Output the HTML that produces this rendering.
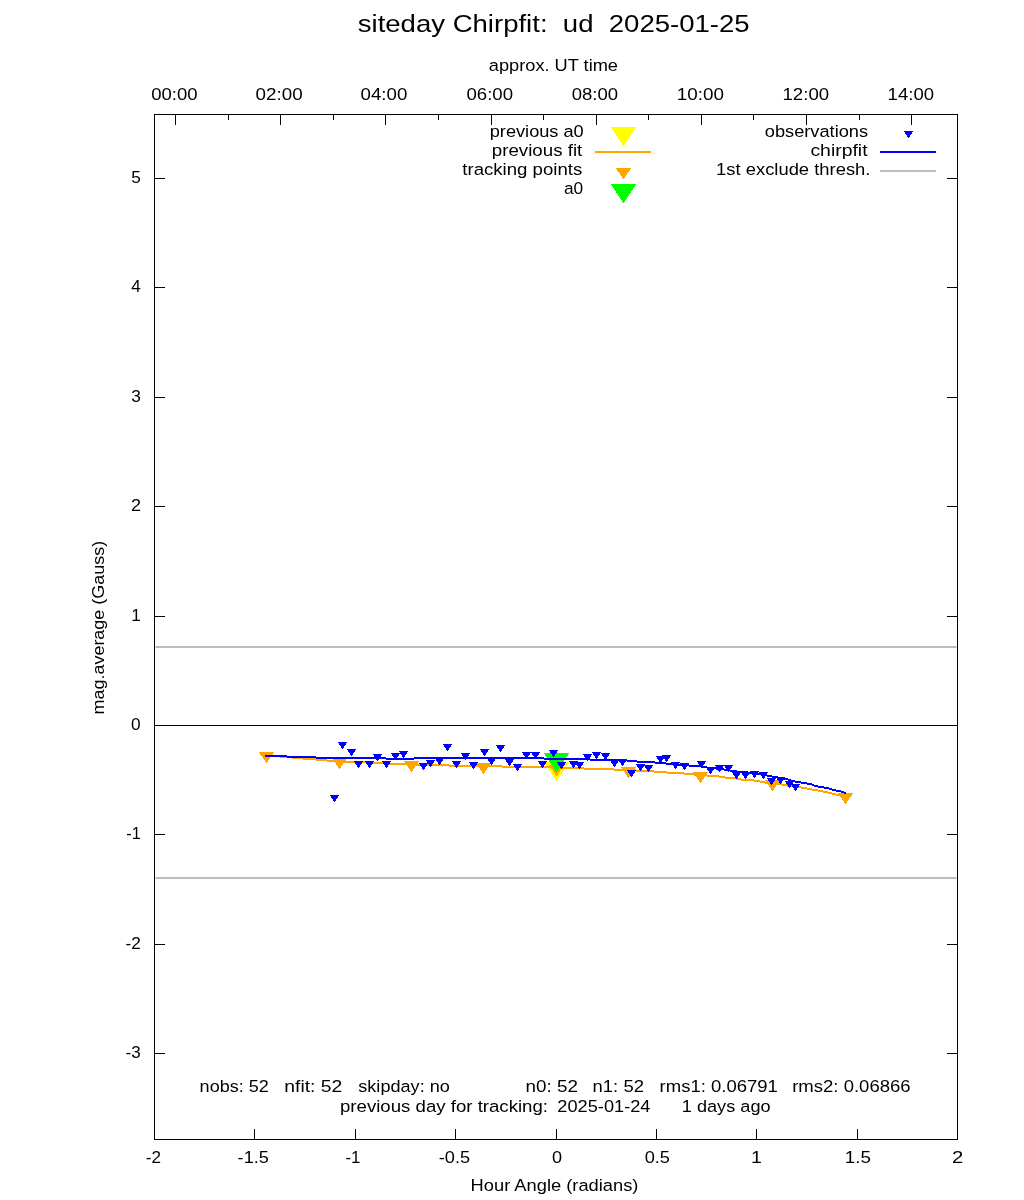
<!DOCTYPE html>
<html><head><meta charset="utf-8"><style>
html,body{margin:0;padding:0;background:#fff;}
svg{display:block;will-change:transform;}
text{font-family:"Liberation Sans",sans-serif;fill:#000;white-space:pre;}
</style></head><body>
<svg width="1024" height="1200" viewBox="0 0 1024 1200" xml:space="preserve">
<rect x="0" y="0" width="1024" height="1200" fill="#fff"/>
<text x="357.77" y="31.80" font-size="24.4" textLength="391.85" lengthAdjust="spacingAndGlyphs">siteday Chirpfit:  ud  2025-01-25</text>
<text x="488.87" y="71.00" font-size="16.8" textLength="129.15" lengthAdjust="spacingAndGlyphs">approx. UT time</text>
<text x="151.16" y="99.90" font-size="16.8" textLength="46.44" lengthAdjust="spacingAndGlyphs">00:00</text>
<text x="255.50" y="99.90" font-size="16.8" textLength="47.11" lengthAdjust="spacingAndGlyphs">02:00</text>
<text x="360.50" y="99.90" font-size="16.8" textLength="46.80" lengthAdjust="spacingAndGlyphs">04:00</text>
<text x="466.46" y="99.90" font-size="16.8" textLength="46.54" lengthAdjust="spacingAndGlyphs">06:00</text>
<text x="571.76" y="99.90" font-size="16.8" textLength="46.33" lengthAdjust="spacingAndGlyphs">08:00</text>
<text x="676.88" y="99.90" font-size="16.8" textLength="47.22" lengthAdjust="spacingAndGlyphs">10:00</text>
<text x="782.50" y="99.90" font-size="16.8" textLength="46.59" lengthAdjust="spacingAndGlyphs">12:00</text>
<text x="887.61" y="99.90" font-size="16.8" textLength="46.39" lengthAdjust="spacingAndGlyphs">14:00</text>
<text x="489.72" y="137.00" font-size="16.8" textLength="94.02" lengthAdjust="spacingAndGlyphs">previous a0</text>
<text x="491.78" y="156.00" font-size="16.8" textLength="90.52" lengthAdjust="spacingAndGlyphs">previous fit</text>
<text x="462.32" y="175.00" font-size="16.8" textLength="119.89" lengthAdjust="spacingAndGlyphs">tracking points</text>
<text x="564.01" y="194.00" font-size="16.8" textLength="19.24" lengthAdjust="spacingAndGlyphs">a0</text>
<text x="764.77" y="137.00" font-size="16.8" textLength="103.37" lengthAdjust="spacingAndGlyphs">observations</text>
<text x="810.42" y="156.00" font-size="16.8" textLength="57.18" lengthAdjust="spacingAndGlyphs">chirpfit</text>
<text x="716.12" y="175.00" font-size="16.8" textLength="154.30" lengthAdjust="spacingAndGlyphs">1st exclude thresh.</text>
<text x="125.63" y="1057.90" font-size="16.8" textLength="15.13" lengthAdjust="spacingAndGlyphs">-3</text>
<text x="125.62" y="948.90" font-size="16.8" textLength="15.32" lengthAdjust="spacingAndGlyphs">-2</text>
<text x="126.37" y="838.90" font-size="16.8" textLength="14.45" lengthAdjust="spacingAndGlyphs">-1</text>
<text x="131.11" y="729.90" font-size="16.8" textLength="9.62" lengthAdjust="spacingAndGlyphs">0</text>
<text x="131.31" y="620.90" font-size="16.8" textLength="9.59" lengthAdjust="spacingAndGlyphs">1</text>
<text x="131.00" y="510.90" font-size="16.8" textLength="10.02" lengthAdjust="spacingAndGlyphs">2</text>
<text x="131.21" y="401.90" font-size="16.8" textLength="9.60" lengthAdjust="spacingAndGlyphs">3</text>
<text x="131.16" y="291.90" font-size="16.8" textLength="9.47" lengthAdjust="spacingAndGlyphs">4</text>
<text x="131.21" y="182.90" font-size="16.8" textLength="9.60" lengthAdjust="spacingAndGlyphs">5</text>
<text x="145.73" y="1163.10" font-size="16.8" textLength="15.21" lengthAdjust="spacingAndGlyphs">-2</text>
<text x="237.58" y="1163.10" font-size="16.8" textLength="31.30" lengthAdjust="spacingAndGlyphs">-1.5</text>
<text x="345.49" y="1163.10" font-size="16.8" textLength="15.06" lengthAdjust="spacingAndGlyphs">-1</text>
<text x="438.78" y="1163.10" font-size="16.8" textLength="31.30" lengthAdjust="spacingAndGlyphs">-0.5</text>
<text x="551.98" y="1163.10" font-size="16.8" textLength="10.08" lengthAdjust="spacingAndGlyphs">0</text>
<text x="644.67" y="1163.10" font-size="16.8" textLength="25.36" lengthAdjust="spacingAndGlyphs">0.5</text>
<text x="750.93" y="1163.10" font-size="16.8" textLength="10.87" lengthAdjust="spacingAndGlyphs">1</text>
<text x="844.89" y="1163.10" font-size="16.8" textLength="26.17" lengthAdjust="spacingAndGlyphs">1.5</text>
<text x="951.99" y="1163.10" font-size="16.8" textLength="11.25" lengthAdjust="spacingAndGlyphs">2</text>
<text x="470.64" y="1191.00" font-size="16.8" textLength="167.79" lengthAdjust="spacingAndGlyphs">Hour Angle (radians)</text>
<g transform="translate(104 714.57) rotate(-90)"><text x="0" y="0" font-size="16.8" textLength="173.87" lengthAdjust="spacingAndGlyphs">mag.average (Gauss)</text></g>
<text x="199.63" y="1091.50" font-size="16.8" textLength="69.20" lengthAdjust="spacingAndGlyphs">nobs: 52</text>
<text x="284.35" y="1091.50" font-size="16.8" textLength="57.85" lengthAdjust="spacingAndGlyphs">nfit: 52</text>
<text x="358.26" y="1091.50" font-size="16.8" textLength="91.64" lengthAdjust="spacingAndGlyphs">skipday: no</text>
<text x="525.58" y="1091.50" font-size="16.8" textLength="52.27" lengthAdjust="spacingAndGlyphs">n0: 52</text>
<text x="592.60" y="1091.50" font-size="16.8" textLength="51.33" lengthAdjust="spacingAndGlyphs">n1: 52</text>
<text x="659.60" y="1091.50" font-size="16.8" textLength="118.29" lengthAdjust="spacingAndGlyphs">rms1: 0.06791</text>
<text x="792.20" y="1091.50" font-size="16.8" textLength="118.40" lengthAdjust="spacingAndGlyphs">rms2: 0.06866</text>
<text x="339.99" y="1112.10" font-size="16.8" textLength="208.03" lengthAdjust="spacingAndGlyphs">previous day for tracking:</text>
<text x="557.39" y="1112.10" font-size="16.8" textLength="93.06" lengthAdjust="spacingAndGlyphs">2025-01-24</text>
<text x="681.84" y="1112.10" font-size="16.8" textLength="88.73" lengthAdjust="spacingAndGlyphs">1 days ago</text>
<g shape-rendering="crispEdges">
<rect x="156" y="646" width="800" height="2" fill="#bebebe"/><rect x="155" y="646" width="1" height="2" fill="#dedede"/><rect x="956" y="646" width="1" height="2" fill="#dedede"/>
<rect x="156" y="877" width="800" height="2" fill="#bebebe"/><rect x="155" y="877" width="1" height="2" fill="#dedede"/><rect x="956" y="877" width="1" height="2" fill="#dedede"/>
<rect x="154" y="725" width="804" height="1" fill="#000"/>
<rect x="595" y="151" width="56" height="2" fill="#ffa500"/>
<rect x="880" y="151" width="56" height="2" fill="#0000ff"/>
<rect x="880" y="170" width="56" height="2" fill="#bebebe"/>
</g>
<g shape-rendering="crispEdges" stroke="#000" stroke-width="1" fill="none">
<rect x="154.5" y="114.5" width="803" height="1025"/>
<line x1="154.5" y1="1139" x2="154.5" y2="1129"/>
<line x1="254.5" y1="1139" x2="254.5" y2="1129"/>
<line x1="355.5" y1="1139" x2="355.5" y2="1129"/>
<line x1="455.5" y1="1139" x2="455.5" y2="1129"/>
<line x1="556.5" y1="1139" x2="556.5" y2="1129"/>
<line x1="656.5" y1="1139" x2="656.5" y2="1129"/>
<line x1="756.5" y1="1139" x2="756.5" y2="1129"/>
<line x1="857.5" y1="1139" x2="857.5" y2="1129"/>
<line x1="957.5" y1="1139" x2="957.5" y2="1129"/>
<line x1="175.5" y1="115" x2="175.5" y2="125"/>
<line x1="228.5" y1="115" x2="228.5" y2="120"/>
<line x1="280.5" y1="115" x2="280.5" y2="125"/>
<line x1="333.5" y1="115" x2="333.5" y2="120"/>
<line x1="385.5" y1="115" x2="385.5" y2="125"/>
<line x1="438.5" y1="115" x2="438.5" y2="120"/>
<line x1="491.5" y1="115" x2="491.5" y2="125"/>
<line x1="543.5" y1="115" x2="543.5" y2="120"/>
<line x1="596.5" y1="115" x2="596.5" y2="125"/>
<line x1="648.5" y1="115" x2="648.5" y2="120"/>
<line x1="701.5" y1="115" x2="701.5" y2="125"/>
<line x1="753.5" y1="115" x2="753.5" y2="120"/>
<line x1="806.5" y1="115" x2="806.5" y2="125"/>
<line x1="859.5" y1="115" x2="859.5" y2="120"/>
<line x1="911.5" y1="115" x2="911.5" y2="125"/>
<line x1="155" y1="1053.5" x2="165" y2="1053.5"/>
<line x1="947" y1="1053.5" x2="957" y2="1053.5"/>
<line x1="155" y1="944.5" x2="165" y2="944.5"/>
<line x1="947" y1="944.5" x2="957" y2="944.5"/>
<line x1="155" y1="834.5" x2="165" y2="834.5"/>
<line x1="947" y1="834.5" x2="957" y2="834.5"/>
<line x1="155" y1="725.5" x2="165" y2="725.5"/>
<line x1="947" y1="725.5" x2="957" y2="725.5"/>
<line x1="155" y1="616.5" x2="165" y2="616.5"/>
<line x1="947" y1="616.5" x2="957" y2="616.5"/>
<line x1="155" y1="506.5" x2="165" y2="506.5"/>
<line x1="947" y1="506.5" x2="957" y2="506.5"/>
<line x1="155" y1="397.5" x2="165" y2="397.5"/>
<line x1="947" y1="397.5" x2="957" y2="397.5"/>
<line x1="155" y1="287.5" x2="165" y2="287.5"/>
<line x1="947" y1="287.5" x2="957" y2="287.5"/>
<line x1="155" y1="178.5" x2="165" y2="178.5"/>
<line x1="947" y1="178.5" x2="957" y2="178.5"/>
</g>
<g shape-rendering="crispEdges">
<polygon points="610.7,127 636.3,127 623.5,146" fill="#ffff00"/>
<polygon points="615.7,168 631.3,168 623.5,179" fill="#ffa500"/>
<polygon points="610.7,184 636.3,184 623.5,203" fill="#00ff00"/>
<polygon points="903.7,131 913.3,131 908.5,138" fill="#0000ff"/>
<polygon points="543.7,762 569.3,762 556.5,781" fill="#ffff00"/>
<rect x="265" y="755" width="15" height="2" fill="#ffa500"/>
<rect x="280" y="756" width="12" height="2" fill="#ffa500"/>
<rect x="292" y="757" width="11" height="2" fill="#ffa500"/>
<rect x="303" y="758" width="13" height="2" fill="#ffa500"/>
<rect x="316" y="759" width="11" height="2" fill="#ffa500"/>
<rect x="327" y="760" width="17" height="2" fill="#ffa500"/>
<rect x="344" y="761" width="24" height="2" fill="#ffa500"/>
<rect x="368" y="762" width="18" height="2" fill="#ffa500"/>
<rect x="386" y="763" width="27" height="2" fill="#ffa500"/>
<rect x="413" y="764" width="36" height="2" fill="#ffa500"/>
<rect x="449" y="765" width="53" height="2" fill="#ffa500"/>
<rect x="502" y="766" width="54" height="2" fill="#ffa500"/>
<rect x="556" y="767" width="28" height="2" fill="#ffa500"/>
<rect x="584" y="768" width="30" height="2" fill="#ffa500"/>
<rect x="614" y="769" width="22" height="2" fill="#ffa500"/>
<rect x="636" y="770" width="18" height="2" fill="#ffa500"/>
<rect x="654" y="771" width="13" height="2" fill="#ffa500"/>
<rect x="667" y="772" width="17" height="2" fill="#ffa500"/>
<rect x="684" y="773" width="10" height="2" fill="#ffa500"/>
<rect x="694" y="774" width="13" height="2" fill="#ffa500"/>
<rect x="707" y="775" width="12" height="2" fill="#ffa500"/>
<rect x="719" y="776" width="6" height="2" fill="#ffa500"/>
<rect x="725" y="777" width="11" height="2" fill="#ffa500"/>
<rect x="736" y="778" width="5" height="2" fill="#ffa500"/>
<rect x="741" y="779" width="13" height="2" fill="#ffa500"/>
<rect x="754" y="780" width="6" height="2" fill="#ffa500"/>
<rect x="760" y="781" width="5" height="2" fill="#ffa500"/>
<rect x="765" y="782" width="8" height="2" fill="#ffa500"/>
<rect x="773" y="783" width="9" height="2" fill="#ffa500"/>
<rect x="782" y="784" width="5" height="2" fill="#ffa500"/>
<rect x="787" y="785" width="6" height="2" fill="#ffa500"/>
<rect x="793" y="786" width="8" height="2" fill="#ffa500"/>
<rect x="801" y="787" width="6" height="2" fill="#ffa500"/>
<rect x="807" y="788" width="5" height="2" fill="#ffa500"/>
<rect x="812" y="789" width="6" height="2" fill="#ffa500"/>
<rect x="818" y="790" width="5" height="2" fill="#ffa500"/>
<rect x="823" y="791" width="5" height="2" fill="#ffa500"/>
<rect x="828" y="792" width="4" height="2" fill="#ffa500"/>
<rect x="832" y="793" width="4" height="2" fill="#ffa500"/>
<rect x="836" y="794" width="4" height="2" fill="#ffa500"/>
<rect x="840" y="795" width="6" height="2" fill="#ffa500"/>
<polygon points="258.7,752 274.3,752 266.5,763" fill="#ffa500"/>
<polygon points="331.7,758 347.3,758 339.5,769" fill="#ffa500"/>
<polygon points="403.7,761 419.3,761 411.5,772" fill="#ffa500"/>
<polygon points="475.7,763 491.3,763 483.5,774" fill="#ffa500"/>
<polygon points="548.7,765 564.3,765 556.5,776" fill="#ffa500"/>
<polygon points="620.7,767 636.3,767 628.5,778" fill="#ffa500"/>
<polygon points="692.7,772 708.3,772 700.5,783" fill="#ffa500"/>
<polygon points="764.7,780 780.3,780 772.5,791" fill="#ffa500"/>
<polygon points="837.7,793 853.3,793 845.5,804" fill="#ffa500"/>
<polygon points="543.7,753 569.3,753 556.5,772" fill="#00ff00"/>
<rect x="265" y="755" width="22" height="2" fill="#0000ff"/>
<rect x="287" y="756" width="29" height="2" fill="#0000ff"/>
<rect x="316" y="757" width="70" height="2" fill="#0000ff"/>
<rect x="386" y="758" width="28" height="2" fill="#0000ff"/>
<rect x="414" y="757" width="130" height="2" fill="#0000ff"/>
<rect x="544" y="758" width="46" height="2" fill="#0000ff"/>
<rect x="590" y="759" width="37" height="2" fill="#0000ff"/>
<rect x="627" y="760" width="10" height="2" fill="#0000ff"/>
<rect x="637" y="761" width="18" height="2" fill="#0000ff"/>
<rect x="655" y="762" width="11" height="2" fill="#0000ff"/>
<rect x="666" y="763" width="7" height="2" fill="#0000ff"/>
<rect x="673" y="764" width="16" height="2" fill="#0000ff"/>
<rect x="689" y="765" width="12" height="2" fill="#0000ff"/>
<rect x="701" y="766" width="6" height="2" fill="#0000ff"/>
<rect x="707" y="767" width="9" height="2" fill="#0000ff"/>
<rect x="716" y="768" width="8" height="2" fill="#0000ff"/>
<rect x="724" y="769" width="6" height="2" fill="#0000ff"/>
<rect x="730" y="770" width="7" height="2" fill="#0000ff"/>
<rect x="737" y="771" width="11" height="2" fill="#0000ff"/>
<rect x="748" y="772" width="7" height="2" fill="#0000ff"/>
<rect x="755" y="773" width="7" height="2" fill="#0000ff"/>
<rect x="762" y="774" width="5" height="2" fill="#0000ff"/>
<rect x="767" y="775" width="5" height="2" fill="#0000ff"/>
<rect x="772" y="776" width="6" height="2" fill="#0000ff"/>
<rect x="778" y="777" width="5" height="2" fill="#0000ff"/>
<rect x="783" y="778" width="5" height="2" fill="#0000ff"/>
<rect x="788" y="779" width="3" height="2" fill="#0000ff"/>
<rect x="791" y="780" width="4" height="2" fill="#0000ff"/>
<rect x="795" y="781" width="6" height="2" fill="#0000ff"/>
<rect x="801" y="782" width="6" height="2" fill="#0000ff"/>
<rect x="807" y="783" width="5" height="2" fill="#0000ff"/>
<rect x="812" y="784" width="2" height="2" fill="#0000ff"/>
<rect x="814" y="785" width="4" height="2" fill="#0000ff"/>
<rect x="818" y="786" width="6" height="2" fill="#0000ff"/>
<rect x="824" y="787" width="5" height="2" fill="#0000ff"/>
<rect x="829" y="788" width="3" height="2" fill="#0000ff"/>
<rect x="832" y="789" width="4" height="2" fill="#0000ff"/>
<rect x="836" y="790" width="5" height="2" fill="#0000ff"/>
<rect x="841" y="791" width="3" height="2" fill="#0000ff"/>
<rect x="844" y="792" width="2" height="2" fill="#0000ff"/>
<polygon points="329.7,795 339.3,795 334.5,802" fill="#0000ff"/>
<polygon points="337.7,742 347.3,742 342.5,749" fill="#0000ff"/>
<polygon points="346.7,749 356.3,749 351.5,756" fill="#0000ff"/>
<polygon points="353.7,761 363.3,761 358.5,768" fill="#0000ff"/>
<polygon points="364.7,761 374.3,761 369.5,768" fill="#0000ff"/>
<polygon points="372.7,754 382.3,754 377.5,761" fill="#0000ff"/>
<polygon points="381.7,761 391.3,761 386.5,768" fill="#0000ff"/>
<polygon points="390.7,753 400.3,753 395.5,760" fill="#0000ff"/>
<polygon points="398.7,751 408.3,751 403.5,758" fill="#0000ff"/>
<polygon points="418.7,763 428.3,763 423.5,770" fill="#0000ff"/>
<polygon points="425.7,760 435.3,760 430.5,767" fill="#0000ff"/>
<polygon points="434.7,758 444.3,758 439.5,765" fill="#0000ff"/>
<polygon points="442.7,744 452.3,744 447.5,751" fill="#0000ff"/>
<polygon points="451.7,761 461.3,761 456.5,768" fill="#0000ff"/>
<polygon points="460.7,753 470.3,753 465.5,760" fill="#0000ff"/>
<polygon points="468.7,762 478.3,762 473.5,769" fill="#0000ff"/>
<polygon points="479.7,749 489.3,749 484.5,756" fill="#0000ff"/>
<polygon points="486.7,758 496.3,758 491.5,765" fill="#0000ff"/>
<polygon points="495.7,745 505.3,745 500.5,752" fill="#0000ff"/>
<polygon points="504.7,759 514.3,759 509.5,766" fill="#0000ff"/>
<polygon points="512.7,764 522.3,764 517.5,771" fill="#0000ff"/>
<polygon points="521.7,752 531.3,752 526.5,759" fill="#0000ff"/>
<polygon points="530.7,752 540.3,752 535.5,759" fill="#0000ff"/>
<polygon points="537.7,761 547.3,761 542.5,768" fill="#0000ff"/>
<polygon points="548.7,750 558.3,750 553.5,757" fill="#0000ff"/>
<polygon points="556.7,762 566.3,762 561.5,769" fill="#0000ff"/>
<polygon points="568.7,761 578.3,761 573.5,768" fill="#0000ff"/>
<polygon points="574.7,762 584.3,762 579.5,769" fill="#0000ff"/>
<polygon points="582.7,754 592.3,754 587.5,761" fill="#0000ff"/>
<polygon points="591.7,752 601.3,752 596.5,759" fill="#0000ff"/>
<polygon points="600.7,753 610.3,753 605.5,760" fill="#0000ff"/>
<polygon points="609.7,760 619.3,760 614.5,767" fill="#0000ff"/>
<polygon points="617.7,759 627.3,759 622.5,766" fill="#0000ff"/>
<polygon points="626.7,770 636.3,770 631.5,777" fill="#0000ff"/>
<polygon points="635.7,764 645.3,764 640.5,771" fill="#0000ff"/>
<polygon points="643.7,765 653.3,765 648.5,772" fill="#0000ff"/>
<polygon points="655.7,756 665.3,756 660.5,763" fill="#0000ff"/>
<polygon points="661.7,755 671.3,755 666.5,762" fill="#0000ff"/>
<polygon points="670.7,762 680.3,762 675.5,769" fill="#0000ff"/>
<polygon points="679.7,763 689.3,763 684.5,770" fill="#0000ff"/>
<polygon points="696.7,761 706.3,761 701.5,768" fill="#0000ff"/>
<polygon points="705.7,767 715.3,767 710.5,774" fill="#0000ff"/>
<polygon points="714.7,765 724.3,765 719.5,772" fill="#0000ff"/>
<polygon points="723.7,765 733.3,765 728.5,772" fill="#0000ff"/>
<polygon points="731.7,772 741.3,772 736.5,779" fill="#0000ff"/>
<polygon points="740.7,772 750.3,772 745.5,779" fill="#0000ff"/>
<polygon points="749.7,771 759.3,771 754.5,778" fill="#0000ff"/>
<polygon points="758.7,772 768.3,772 763.5,779" fill="#0000ff"/>
<polygon points="766.7,778 776.3,778 771.5,785" fill="#0000ff"/>
<polygon points="775.7,777 785.3,777 780.5,784" fill="#0000ff"/>
<polygon points="784.7,781 794.3,781 789.5,788" fill="#0000ff"/>
<polygon points="790.7,784 800.3,784 795.5,791" fill="#0000ff"/>
</g>
</svg></body></html>
